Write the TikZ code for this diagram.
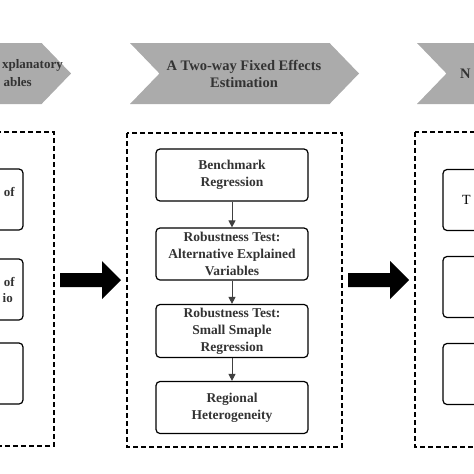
\documentclass[tikz,border=0pt]{standalone}
\usepackage{fontspec}
\setmainfont{Liberation Serif}
\usetikzlibrary{shapes.symbols,arrows.meta}

\tikzset{
  chevron/.style={shape=signal, signal from=west, signal to=east, signal pointer angle=92,
    fill=black!33, minimum width=229pt, minimum height=61pt, inner sep=0pt},
  headtext/.style={font=\bfseries\fontsize{14.5}{17}\selectfont, text=black!80, align=center},
  parttext/.style={font=\bfseries\fontsize{13}{16}\selectfont, text=black!80, inner sep=1pt},
  framebox/.style={dash pattern=on 5pt off 3pt, line width=1.1pt},
  stepbox/.style={draw, line width=1.2pt, rounded corners=4pt, minimum width=152pt,
    minimum height=52pt, align=center, font=\bfseries\fontsize{13.5}{17}\selectfont, text=black!80},
  sidebox/.style={draw, line width=1.2pt, rounded corners=4pt, minimum width=152pt, minimum height=61pt},
  link/.style={-{Triangle[length=7pt,width=7pt]}, line width=1pt, black!75}
}

\begin{document}
\begin{tikzpicture}[x=1pt,y=-1pt]
    \useasboundingbox (0,0) rectangle (474,474);
    \clip (0,0) rectangle (474,474);

    % headings
    \node[chevron] (head1) at (-43.5,73.5) {};
    \node[chevron] (head2) at (244.5,73.5) {};
    \node[chevron] (head3) at (531.5,73.5) {};
    \node[parttext, anchor=east] (head1a) at (64,65) {xplanatory};
    \node[parttext, anchor=east] (head1b) at (33,82) {ables};
    \node[headtext] (head2t) at (244,73.5) {A Two-way Fixed Effects\\Estimation};
    \node[parttext, font=\bfseries\fontsize{14.5}{17}\selectfont, anchor=west] (head3t) at (459,74) {N};

    % frames
    \draw[framebox] (-161,132) rectangle (54,446);
    \draw[framebox] (127,133) rectangle (342,447);
    \draw[framebox] (415,132) rectangle (630,447);

    % left column
    \node[sidebox] (left1) at (-53,199.5) {};
    \node[sidebox] (left2) at (-53,289.5) {};
    \node[sidebox] (left3) at (-53,373.5) {};
    \node[parttext, anchor=east] (left1t) at (16,192) {of};
    \node[parttext, anchor=east] (left2a) at (16,282) {of};
    \node[parttext, anchor=east] (left2b) at (14,298) {io};

    % middle column
    \node[stepbox] (bench) at (232,175) {Benchmark\\Regression};
    \node[stepbox] (altvar) at (232,254) {Robustness Test:\\Alternative Explained\\Variables};
    \node[stepbox] (small) at (232,331) {Robustness Test:\\Small Smaple\\Regression};
    \node[stepbox] (regional) at (232,407.5) {Regional\\Heterogeneity};
    \draw[link] (bench) -- (altvar);
    \draw[link] (altvar) -- (small);
    \draw[link] (small) -- (regional);

    % right column
    \node[sidebox] (right1) at (519,200) {};
    \node[sidebox] (right2) at (519,287) {};
    \node[sidebox] (right3) at (519,374) {};
    \node[font=\fontsize{14}{16}\selectfont, inner sep=1pt, anchor=west] (right1t) at (461,200) {T};

    % big arrows
    \fill (60,273) -- (102,273) -- (102,261) -- (121,280) -- (102,299) -- (102,287) -- (60,287) -- cycle;
    \fill (348,273) -- (390,273) -- (390,261) -- (409,280) -- (390,299) -- (390,287) -- (348,287) -- cycle;
\end{tikzpicture}
\end{document}
